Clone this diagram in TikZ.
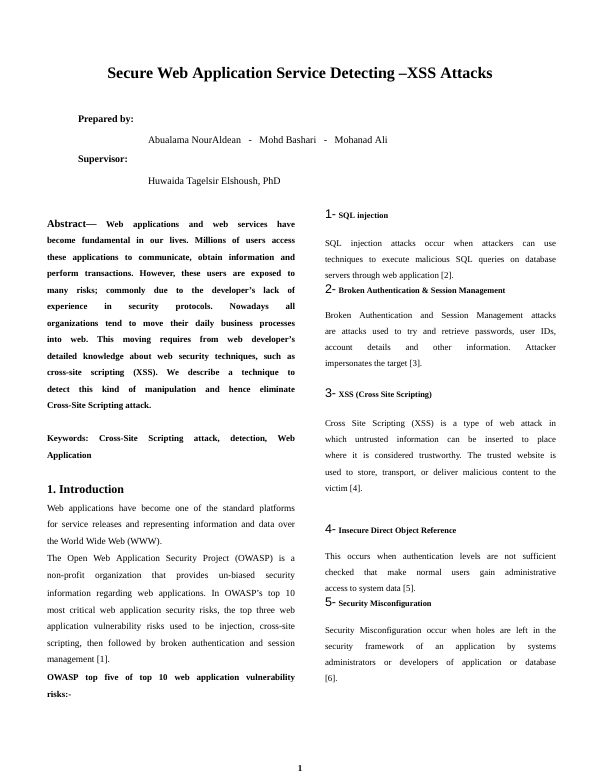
\documentclass[tikz,border=0pt]{standalone}
\usepackage{fontspec}
\setmainfont{Liberation Serif}
\newfontfamily\numsans{Liberation Sans}
\frenchspacing
\tikzset{txt/.style={anchor=base west,inner sep=0pt,outer sep=0pt},
 ctxt/.style={anchor=base,inner sep=0pt,outer sep=0pt}}
\newcommand\bodyf{\fontsize{9.3}{11}\selectfont}
\newcommand\absf{\fontsize{8.9}{11}\selectfont\bfseries}
\newcommand\jl[5]{\node[txt] (#1) at (#2,#3) {\makebox[#4pt][s]{#5}};}
\newcommand\rl[4]{\node[txt] (#1) at (#2,#3) {#4};}
\begin{document}
\begin{tikzpicture}[x=1pt,y=-1pt]
\fill[white] (0,0) rectangle (600,776);
\useasboundingbox (0,0) rectangle (600,776);
\node[ctxt] (title) at (300,78) {\fontsize{16}{18}\selectfont\bfseries Secure Web Application Service Detecting –XSS Attacks};
\rl{prep}{78}{122}{\fontsize{10}{12}\selectfont\bfseries Prepared by:}
\rl{auth}{148}{143}{\fontsize{10}{12}\selectfont Abualama NourAldean\ \ \ -\ \ \ Mohd Bashari\ \ \ -\ \ \ Mohanad Ali}
\rl{sup}{78}{162}{\fontsize{10}{12}\selectfont\bfseries Supervisor:}
\rl{supn}{148}{184}{\fontsize{10}{12}\selectfont Huwaida Tagelsir Elshoush, PhD}
% abstract
\begin{scope}[every node/.append style={font=\absf}]
\jl{a1}{47}{227}{248}{{\fontsize{10.5}{12}\selectfont Abstract—} Web applications and web services have}
\jl{a2}{47}{243.5}{248}{become fundamental in our lives. Millions of users access}
\jl{a3}{47}{260}{248}{these applications to communicate, obtain information and}
\jl{a4}{47}{276.5}{248}{perform transactions. However, these users are exposed to}
\jl{a5}{47}{293}{248}{many risks; commonly due to the developer’s lack of}
\jl{a6}{47}{309.5}{248}{experience in security protocols. Nowadays all}
\jl{a7}{47}{326}{248}{organizations tend to move their daily business processes}
\jl{a8}{47}{342.5}{248}{into web. This moving requires from web developer’s}
\jl{a9}{47}{359}{248}{detailed knowledge about web security techniques, such as}
\jl{a10}{47}{375.5}{248}{cross-site scripting (XSS). We describe a technique to}
\jl{a11}{47}{392}{248}{detect this kind of manipulation and hence eliminate}
\rl{a12}{47}{408}{Cross-Site Scripting attack.}
\jl{k1}{47}{441}{248}{Keywords: Cross-Site Scripting attack, detection, Web}
\rl{k2}{47}{458}{Application}
\end{scope}
\rl{intro}{47}{493}{\fontsize{12}{14}\selectfont\bfseries 1. Introduction}
\begin{scope}[every node/.append style={font=\bodyf}]
\jl{i1}{47}{511}{248}{Web applications have become one of the standard platforms}
\jl{i2}{47}{527}{248}{for service releases and representing information and data over}
\rl{i3}{47}{544}{the World Wide Web (WWW).}
\jl{i4}{47}{561}{248}{The Open Web Application Security Project (OWASP) is a}
\jl{i5}{47}{578}{248}{non-profit organization that provides un-biased security}
\jl{i6}{47}{596}{248}{information regarding web applications. In OWASP’s top 10}
\jl{i7}{47}{613}{248}{most critical web application security risks, the top three web}
\jl{i8}{47}{629}{248}{application vulnerability risks used to be injection, cross-site}
\jl{i9}{47}{646}{248}{scripting, then followed by broken authentication and session}
\rl{i10}{47}{662}{management [1].}
\end{scope}
\begin{scope}[every node/.append style={font=\absf}]
\jl{o1}{47}{680}{248}{OWASP top five of top 10 web application vulnerability}
\rl{o2}{47}{697}{risks:-}
\end{scope}
% right column
\newcommand\hd[4]{\node[txt] (#1) at (325,#2) {{\numsans\fontsize{12.5}{14}\selectfont #3-} {\fontsize{8.3}{10}\selectfont\bfseries #4}};}
\hd{h1}{218}{1}{SQL injection}
\hd{h2}{293}{2}{Broken Authentication \& Session Management}
\hd{h3}{397}{3}{XSS (Cross Site Scripting)}
\hd{h4}{533}{4}{Insecure Direct Object Reference}
\hd{h5}{606}{5}{Security Misconfiguration}
\begin{scope}[every node/.append style={font=\fontsize{8.9}{11}\selectfont}]
\jl{s1}{325}{246}{231}{SQL injection attacks occur when attackers can use}
\jl{s2}{325}{262}{231}{techniques to execute malicious SQL queries on database}
\rl{s3}{325}{278}{servers through web application [2].}
\jl{b1}{325}{318}{231}{Broken Authentication and Session Management attacks}
\jl{b2}{325}{334}{231}{are attacks used to try and retrieve passwords, user IDs,}
\jl{b3}{325}{350}{231}{account details and other information. Attacker}
\rl{b4}{325}{366}{impersonates the target [3].}
\jl{x1}{325}{426}{231}{Cross Site Scripting (XSS) is a type of web attack in}
\jl{x2}{325}{442}{231}{which untrusted information can be inserted to place}
\jl{x3}{325}{458}{231}{where it is considered trustworthy. The trusted website is}
\jl{x4}{325}{475}{231}{used to store, transport, or deliver malicious content to the}
\rl{x5}{325}{491}{victim [4].}
\jl{d1}{325}{559}{231}{This occurs when authentication levels are not sufficient}
\jl{d2}{325}{575}{231}{checked that make normal users gain administrative}
\rl{d3}{325}{591}{access to system data [5].}
\jl{m1}{325}{633}{231}{Security Misconfiguration occur when holes are left in the}
\jl{m2}{325}{649}{231}{security framework of an application by systems}
\jl{m3}{325}{665}{231}{administrators or developers of application or database}
\rl{m4}{325}{681}{[6].}
\end{scope}
\node[ctxt] (pg) at (300,771) {\fontsize{9}{10}\selectfont\bfseries 1};
\end{tikzpicture}
\end{document}
